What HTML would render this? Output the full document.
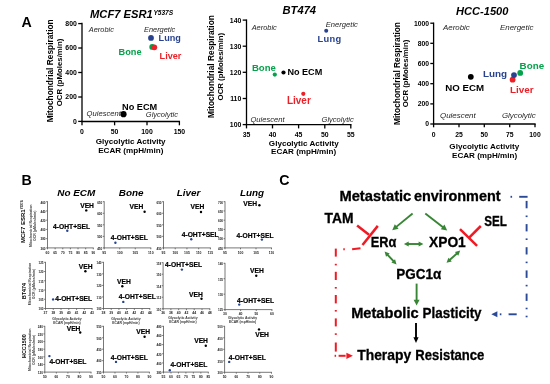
<!DOCTYPE html>
<html><head><meta charset="utf-8"><style>
html,body{margin:0;padding:0;background:#fff;overflow:hidden;}
svg{display:block;font-family:"Liberation Sans",sans-serif;}
</style></head><body>
<svg width="550" height="384" viewBox="0 0 550 384">
<rect width="550" height="384" fill="#fff"/>
<text x="21.60" y="27.00" font-size="14.2" font-weight="bold" fill="#000" text-anchor="start">A</text>
<line x1="82.00" y1="22.75" x2="82.00" y2="121.50" stroke="#000" stroke-width="1.3"/>
<line x1="81.35" y1="121.50" x2="180.05" y2="121.50" stroke="#000" stroke-width="1.3"/>
<line x1="78.20" y1="23.60" x2="82.00" y2="23.60" stroke="#000" stroke-width="1.3"/>
<text x="76.80" y="26.08" font-size="6.9" font-weight="bold" fill="#000" text-anchor="end">800</text>
<line x1="78.20" y1="48.00" x2="82.00" y2="48.00" stroke="#000" stroke-width="1.3"/>
<text x="76.80" y="50.48" font-size="6.9" font-weight="bold" fill="#000" text-anchor="end">600</text>
<line x1="78.20" y1="72.50" x2="82.00" y2="72.50" stroke="#000" stroke-width="1.3"/>
<text x="76.80" y="74.98" font-size="6.9" font-weight="bold" fill="#000" text-anchor="end">400</text>
<line x1="78.20" y1="97.00" x2="82.00" y2="97.00" stroke="#000" stroke-width="1.3"/>
<text x="76.80" y="99.48" font-size="6.9" font-weight="bold" fill="#000" text-anchor="end">200</text>
<line x1="78.20" y1="121.40" x2="82.00" y2="121.40" stroke="#000" stroke-width="1.3"/>
<text x="76.80" y="123.88" font-size="6.9" font-weight="bold" fill="#000" text-anchor="end">0</text>
<line x1="82.00" y1="121.50" x2="82.00" y2="125.30" stroke="#000" stroke-width="1.3"/>
<text x="82.00" y="133.50" font-size="6.9" font-weight="bold" fill="#000" text-anchor="middle">0</text>
<line x1="114.60" y1="121.50" x2="114.60" y2="125.30" stroke="#000" stroke-width="1.3"/>
<text x="114.60" y="133.50" font-size="6.9" font-weight="bold" fill="#000" text-anchor="middle">50</text>
<line x1="147.00" y1="121.50" x2="147.00" y2="125.30" stroke="#000" stroke-width="1.3"/>
<text x="147.00" y="133.50" font-size="6.9" font-weight="bold" fill="#000" text-anchor="middle">100</text>
<line x1="179.40" y1="121.50" x2="179.40" y2="125.30" stroke="#000" stroke-width="1.3"/>
<text x="179.40" y="133.50" font-size="6.9" font-weight="bold" fill="#000" text-anchor="middle">150</text>
<text x="90" y="18.3" font-size="11.2" font-weight="bold" font-style="italic">MCF7 ESR1<tspan font-size="6.6" dx="0.6" dy="-3.6">Y537S</tspan></text>
<text transform="translate(53.19,70.80) rotate(-90)" font-size="8.35" font-weight="bold" fill="#000" text-anchor="middle">Mitochondrial Respiration</text>
<text transform="translate(62.29,72.50) rotate(-90)" font-size="7.8" font-weight="bold" fill="#000" text-anchor="middle">OCR (pMoles/min)</text>
<text x="130.70" y="143.90" font-size="8.1" font-weight="bold" fill="#000" text-anchor="middle">Glycolytic Activity</text>
<text x="130.80" y="152.90" font-size="8.1" font-weight="bold" fill="#000" text-anchor="middle">ECAR (mpH/min)</text>
<text x="88.80" y="32.00" font-size="7.4" font-weight="normal" font-style="italic" fill="#262626" text-anchor="start">Aerobic</text>
<text x="144.00" y="32.00" font-size="7.4" font-weight="normal" font-style="italic" fill="#262626" text-anchor="start">Energetic</text>
<text x="86.60" y="116.20" font-size="7.6" font-weight="normal" font-style="italic" fill="#262626" text-anchor="start">Quiescent</text>
<text x="145.80" y="116.80" font-size="7.5" font-weight="normal" font-style="italic" fill="#262626" text-anchor="start">Glycolytic</text>
<circle cx="151.00" cy="37.90" r="2.9" fill="#28428f"/>
<circle cx="152.20" cy="46.90" r="2.9" fill="#05a14b"/>
<circle cx="154.30" cy="47.30" r="2.9" fill="#ea2129"/>
<circle cx="123.50" cy="114.20" r="3.1" fill="#000"/>
<text x="158.60" y="41.00" font-size="9.1" font-weight="bold" fill="#28428f" text-anchor="start">Lung</text>
<text x="118.60" y="54.80" font-size="9.2" font-weight="bold" fill="#05a14b" text-anchor="start">Bone</text>
<text x="159.60" y="58.90" font-size="9.1" font-weight="bold" fill="#ea2129" text-anchor="start">Liver</text>
<text x="122.00" y="110.30" font-size="9.2" font-weight="bold" fill="#000" text-anchor="start">No ECM</text>
<line x1="246.50" y1="19.45" x2="246.50" y2="124.60" stroke="#000" stroke-width="1.3"/>
<line x1="245.85" y1="124.60" x2="351.45" y2="124.60" stroke="#000" stroke-width="1.3"/>
<line x1="242.70" y1="20.10" x2="246.50" y2="20.10" stroke="#000" stroke-width="1.3"/>
<text x="241.30" y="22.58" font-size="6.9" font-weight="bold" fill="#000" text-anchor="end">140</text>
<line x1="242.70" y1="46.20" x2="246.50" y2="46.20" stroke="#000" stroke-width="1.3"/>
<text x="241.30" y="48.68" font-size="6.9" font-weight="bold" fill="#000" text-anchor="end">130</text>
<line x1="242.70" y1="72.30" x2="246.50" y2="72.30" stroke="#000" stroke-width="1.3"/>
<text x="241.30" y="74.78" font-size="6.9" font-weight="bold" fill="#000" text-anchor="end">120</text>
<line x1="242.70" y1="98.50" x2="246.50" y2="98.50" stroke="#000" stroke-width="1.3"/>
<text x="241.30" y="100.98" font-size="6.9" font-weight="bold" fill="#000" text-anchor="end">110</text>
<line x1="242.70" y1="124.60" x2="246.50" y2="124.60" stroke="#000" stroke-width="1.3"/>
<text x="241.30" y="127.08" font-size="6.9" font-weight="bold" fill="#000" text-anchor="end">100</text>
<line x1="246.50" y1="124.60" x2="246.50" y2="128.40" stroke="#000" stroke-width="1.3"/>
<text x="246.50" y="137.00" font-size="6.9" font-weight="bold" fill="#000" text-anchor="middle">35</text>
<line x1="272.50" y1="124.60" x2="272.50" y2="128.40" stroke="#000" stroke-width="1.3"/>
<text x="272.50" y="137.00" font-size="6.9" font-weight="bold" fill="#000" text-anchor="middle">40</text>
<line x1="298.60" y1="124.60" x2="298.60" y2="128.40" stroke="#000" stroke-width="1.3"/>
<text x="298.60" y="137.00" font-size="6.9" font-weight="bold" fill="#000" text-anchor="middle">45</text>
<line x1="324.80" y1="124.60" x2="324.80" y2="128.40" stroke="#000" stroke-width="1.3"/>
<text x="324.80" y="137.00" font-size="6.9" font-weight="bold" fill="#000" text-anchor="middle">50</text>
<line x1="350.80" y1="124.60" x2="350.80" y2="128.40" stroke="#000" stroke-width="1.3"/>
<text x="350.80" y="137.00" font-size="6.9" font-weight="bold" fill="#000" text-anchor="middle">55</text>
<text x="282.50" y="14.00" font-size="11.2" font-weight="bold" font-style="italic" fill="#000" text-anchor="start">BT474</text>
<text transform="translate(213.89,66.60) rotate(-90)" font-size="8.35" font-weight="bold" fill="#000" text-anchor="middle">Mitochondrial Respiration</text>
<text transform="translate(223.09,66.60) rotate(-90)" font-size="7.8" font-weight="bold" fill="#000" text-anchor="middle">OCR (pMoles/min)</text>
<text x="303.80" y="145.60" font-size="8.1" font-weight="bold" fill="#000" text-anchor="middle">Glycolytic Activity</text>
<text x="303.60" y="154.20" font-size="8.1" font-weight="bold" fill="#000" text-anchor="middle">ECAR (mpH/min)</text>
<text x="251.70" y="29.50" font-size="7.4" font-weight="normal" font-style="italic" fill="#262626" text-anchor="start">Aerobic</text>
<text x="325.80" y="27.10" font-size="7.6" font-weight="normal" font-style="italic" fill="#262626" text-anchor="start">Energetic</text>
<text x="250.40" y="122.10" font-size="7.6" font-weight="normal" font-style="italic" fill="#262626" text-anchor="start">Quiescent</text>
<text x="321.60" y="122.10" font-size="7.5" font-weight="normal" font-style="italic" fill="#262626" text-anchor="start">Glycolytic</text>
<circle cx="326.20" cy="30.70" r="2.0" fill="#28428f"/>
<circle cx="274.80" cy="74.60" r="2.1" fill="#05a14b"/>
<circle cx="283.50" cy="72.50" r="2.1" fill="#000"/>
<circle cx="303.30" cy="93.80" r="2.1" fill="#ea2129"/>
<text x="317.50" y="41.60" font-size="9.3" font-weight="bold" fill="#28428f" text-anchor="start" letter-spacing="0.3">Lung</text>
<text x="251.90" y="71.40" font-size="9.6" font-weight="bold" fill="#05a14b" text-anchor="start">Bone</text>
<text x="287.40" y="75.40" font-size="9.1" font-weight="bold" fill="#000" text-anchor="start">No ECM</text>
<text x="286.90" y="104.20" font-size="10" font-weight="bold" fill="#ea2129" text-anchor="start">Liver</text>
<line x1="433.60" y1="22.55" x2="433.60" y2="124.00" stroke="#000" stroke-width="1.3"/>
<line x1="432.95" y1="124.00" x2="535.65" y2="124.00" stroke="#000" stroke-width="1.3"/>
<line x1="430.30" y1="23.20" x2="433.60" y2="23.20" stroke="#000" stroke-width="1.3"/>
<text x="429.00" y="25.65" font-size="6.8" font-weight="bold" fill="#000" text-anchor="end">1000</text>
<line x1="430.30" y1="43.30" x2="433.60" y2="43.30" stroke="#000" stroke-width="1.3"/>
<text x="429.00" y="45.75" font-size="6.8" font-weight="bold" fill="#000" text-anchor="end">800</text>
<line x1="430.30" y1="63.50" x2="433.60" y2="63.50" stroke="#000" stroke-width="1.3"/>
<text x="429.00" y="65.95" font-size="6.8" font-weight="bold" fill="#000" text-anchor="end">600</text>
<line x1="430.30" y1="83.70" x2="433.60" y2="83.70" stroke="#000" stroke-width="1.3"/>
<text x="429.00" y="86.15" font-size="6.8" font-weight="bold" fill="#000" text-anchor="end">400</text>
<line x1="430.30" y1="103.90" x2="433.60" y2="103.90" stroke="#000" stroke-width="1.3"/>
<text x="429.00" y="106.35" font-size="6.8" font-weight="bold" fill="#000" text-anchor="end">200</text>
<line x1="430.30" y1="124.00" x2="433.60" y2="124.00" stroke="#000" stroke-width="1.3"/>
<text x="429.00" y="126.45" font-size="6.8" font-weight="bold" fill="#000" text-anchor="end">0</text>
<line x1="433.60" y1="124.00" x2="433.60" y2="127.30" stroke="#000" stroke-width="1.3"/>
<text x="433.60" y="136.70" font-size="6.8" font-weight="bold" fill="#000" text-anchor="middle">0</text>
<line x1="459.00" y1="124.00" x2="459.00" y2="127.30" stroke="#000" stroke-width="1.3"/>
<text x="459.00" y="136.70" font-size="6.8" font-weight="bold" fill="#000" text-anchor="middle">25</text>
<line x1="484.30" y1="124.00" x2="484.30" y2="127.30" stroke="#000" stroke-width="1.3"/>
<text x="484.30" y="136.70" font-size="6.8" font-weight="bold" fill="#000" text-anchor="middle">50</text>
<line x1="509.70" y1="124.00" x2="509.70" y2="127.30" stroke="#000" stroke-width="1.3"/>
<text x="509.70" y="136.70" font-size="6.8" font-weight="bold" fill="#000" text-anchor="middle">75</text>
<line x1="535.00" y1="124.00" x2="535.00" y2="127.30" stroke="#000" stroke-width="1.3"/>
<text x="535.00" y="136.70" font-size="6.8" font-weight="bold" fill="#000" text-anchor="middle">100</text>
<text x="456.00" y="14.70" font-size="11.1" font-weight="bold" font-style="italic" fill="#000" text-anchor="start">HCC-1500</text>
<text transform="translate(399.69,73.50) rotate(-90)" font-size="8.35" font-weight="bold" fill="#000" text-anchor="middle">Mitochondrial Respiration</text>
<text transform="translate(407.79,73.50) rotate(-90)" font-size="7.8" font-weight="bold" fill="#000" text-anchor="middle">OCR (pMoles/min)</text>
<text x="484.30" y="149.10" font-size="8.1" font-weight="bold" fill="#000" text-anchor="middle">Glycolytic Activity</text>
<text x="484.60" y="157.80" font-size="8.1" font-weight="bold" fill="#000" text-anchor="middle">ECAR (mpH/min)</text>
<text x="443.00" y="29.90" font-size="7.9" font-weight="normal" font-style="italic" fill="#262626" text-anchor="start">Aerobic</text>
<text x="500.00" y="30.40" font-size="7.9" font-weight="normal" font-style="italic" fill="#262626" text-anchor="start">Energetic</text>
<text x="440.00" y="118.00" font-size="7.95" font-weight="normal" font-style="italic" fill="#262626" text-anchor="start">Quiescent</text>
<text x="501.90" y="118.30" font-size="7.9" font-weight="normal" font-style="italic" fill="#262626" text-anchor="start">Glycolytic</text>
<circle cx="470.80" cy="76.80" r="2.9" fill="#000"/>
<circle cx="520.20" cy="72.90" r="2.9" fill="#05a14b"/>
<circle cx="512.60" cy="79.70" r="2.9" fill="#ea2129"/>
<circle cx="514.00" cy="75.10" r="2.9" fill="#28428f"/>
<text x="519.60" y="69.40" font-size="9.8" font-weight="bold" fill="#05a14b" text-anchor="start">Bone</text>
<text x="483.00" y="76.70" font-size="9.9" font-weight="bold" fill="#28428f" text-anchor="start">Lung</text>
<text x="510.00" y="93.30" font-size="9.9" font-weight="bold" fill="#ea2129" text-anchor="start">Liver</text>
<text x="445.30" y="91.30" font-size="9.7" font-weight="bold" fill="#000" text-anchor="start">NO ECM</text>
<text x="21.60" y="184.80" font-size="14.2" font-weight="bold" fill="#000" text-anchor="start">B</text>
<text x="57.30" y="196.20" font-size="9.9" font-weight="bold" font-style="italic" fill="#000" text-anchor="start">No ECM</text>
<text x="118.75" y="196.20" font-size="9.9" font-weight="bold" font-style="italic" fill="#000" text-anchor="start">Bone</text>
<text x="176.70" y="196.20" font-size="9.9" font-weight="bold" font-style="italic" fill="#000" text-anchor="start">Liver</text>
<text x="240.00" y="196.20" font-size="9.9" font-weight="bold" font-style="italic" fill="#000" text-anchor="start">Lung</text>
<line x1="47.50" y1="201.30" x2="47.50" y2="247.90" stroke="#555" stroke-width="0.8"/>
<line x1="47.10" y1="247.90" x2="93.70" y2="247.90" stroke="#555" stroke-width="0.8"/>
<line x1="46.10" y1="201.70" x2="47.50" y2="201.70" stroke="#555" stroke-width="0.8"/>
<text x="45.60" y="203.50" font-size="3.1" font-weight="bold" fill="#222" text-anchor="end">460</text>
<line x1="46.10" y1="210.94" x2="47.50" y2="210.94" stroke="#555" stroke-width="0.8"/>
<text x="45.60" y="212.74" font-size="3.1" font-weight="bold" fill="#222" text-anchor="end">440</text>
<line x1="46.10" y1="220.18" x2="47.50" y2="220.18" stroke="#555" stroke-width="0.8"/>
<text x="45.60" y="221.98" font-size="3.1" font-weight="bold" fill="#222" text-anchor="end">420</text>
<line x1="46.10" y1="229.42" x2="47.50" y2="229.42" stroke="#555" stroke-width="0.8"/>
<text x="45.60" y="231.22" font-size="3.1" font-weight="bold" fill="#222" text-anchor="end">400</text>
<line x1="46.10" y1="238.66" x2="47.50" y2="238.66" stroke="#555" stroke-width="0.8"/>
<text x="45.60" y="240.46" font-size="3.1" font-weight="bold" fill="#222" text-anchor="end">380</text>
<line x1="46.10" y1="247.90" x2="47.50" y2="247.90" stroke="#555" stroke-width="0.8"/>
<text x="45.60" y="249.70" font-size="3.1" font-weight="bold" fill="#222" text-anchor="end">360</text>
<line x1="47.50" y1="247.90" x2="47.50" y2="249.30" stroke="#555" stroke-width="0.8"/>
<text x="47.50" y="253.80" font-size="3.4" font-weight="bold" fill="#222" text-anchor="middle">60</text>
<line x1="55.13" y1="247.90" x2="55.13" y2="249.30" stroke="#555" stroke-width="0.8"/>
<text x="55.13" y="253.80" font-size="3.4" font-weight="bold" fill="#222" text-anchor="middle">65</text>
<line x1="62.77" y1="247.90" x2="62.77" y2="249.30" stroke="#555" stroke-width="0.8"/>
<text x="62.77" y="253.80" font-size="3.4" font-weight="bold" fill="#222" text-anchor="middle">70</text>
<line x1="70.40" y1="247.90" x2="70.40" y2="249.30" stroke="#555" stroke-width="0.8"/>
<text x="70.40" y="253.80" font-size="3.4" font-weight="bold" fill="#222" text-anchor="middle">75</text>
<line x1="78.03" y1="247.90" x2="78.03" y2="249.30" stroke="#555" stroke-width="0.8"/>
<text x="78.03" y="253.80" font-size="3.4" font-weight="bold" fill="#222" text-anchor="middle">80</text>
<line x1="85.67" y1="247.90" x2="85.67" y2="249.30" stroke="#555" stroke-width="0.8"/>
<text x="85.67" y="253.80" font-size="3.4" font-weight="bold" fill="#222" text-anchor="middle">85</text>
<line x1="93.30" y1="247.90" x2="93.30" y2="249.30" stroke="#555" stroke-width="0.8"/>
<text x="93.30" y="253.80" font-size="3.4" font-weight="bold" fill="#222" text-anchor="middle">90</text>
<circle cx="86.25" cy="210.40" r="1.2" fill="#000"/>
<circle cx="67.30" cy="230.80" r="1.2" fill="#28428f"/>
<text x="80.20" y="208.20" font-size="6.7" font-weight="bold" fill="#000" text-anchor="start" stroke="#000" stroke-width="0.2">VEH</text>
<text x="53.10" y="228.60" font-size="6.7" font-weight="bold" fill="#000" text-anchor="start" stroke="#000" stroke-width="0.2">4-OHT+SEL</text>
<line x1="104.20" y1="201.30" x2="104.20" y2="247.90" stroke="#555" stroke-width="0.8"/>
<line x1="103.80" y1="247.90" x2="151.20" y2="247.90" stroke="#555" stroke-width="0.8"/>
<line x1="102.80" y1="201.70" x2="104.20" y2="201.70" stroke="#555" stroke-width="0.8"/>
<text x="102.30" y="203.50" font-size="3.1" font-weight="bold" fill="#222" text-anchor="end">650</text>
<line x1="102.80" y1="213.25" x2="104.20" y2="213.25" stroke="#555" stroke-width="0.8"/>
<text x="102.30" y="215.05" font-size="3.1" font-weight="bold" fill="#222" text-anchor="end">600</text>
<line x1="102.80" y1="224.80" x2="104.20" y2="224.80" stroke="#555" stroke-width="0.8"/>
<text x="102.30" y="226.60" font-size="3.1" font-weight="bold" fill="#222" text-anchor="end">550</text>
<line x1="102.80" y1="236.35" x2="104.20" y2="236.35" stroke="#555" stroke-width="0.8"/>
<text x="102.30" y="238.15" font-size="3.1" font-weight="bold" fill="#222" text-anchor="end">500</text>
<line x1="102.80" y1="247.90" x2="104.20" y2="247.90" stroke="#555" stroke-width="0.8"/>
<text x="102.30" y="249.70" font-size="3.1" font-weight="bold" fill="#222" text-anchor="end">450</text>
<line x1="104.20" y1="247.90" x2="104.20" y2="249.30" stroke="#555" stroke-width="0.8"/>
<text x="104.20" y="253.80" font-size="3.4" font-weight="bold" fill="#222" text-anchor="middle">95</text>
<line x1="119.73" y1="247.90" x2="119.73" y2="249.30" stroke="#555" stroke-width="0.8"/>
<text x="119.73" y="253.80" font-size="3.4" font-weight="bold" fill="#222" text-anchor="middle">100</text>
<line x1="135.27" y1="247.90" x2="135.27" y2="249.30" stroke="#555" stroke-width="0.8"/>
<text x="135.27" y="253.80" font-size="3.4" font-weight="bold" fill="#222" text-anchor="middle">105</text>
<line x1="150.80" y1="247.90" x2="150.80" y2="249.30" stroke="#555" stroke-width="0.8"/>
<text x="150.80" y="253.80" font-size="3.4" font-weight="bold" fill="#222" text-anchor="middle">110</text>
<circle cx="144.60" cy="211.70" r="1.2" fill="#000"/>
<circle cx="115.40" cy="242.70" r="1.2" fill="#28428f"/>
<text x="129.60" y="208.90" font-size="6.7" font-weight="bold" fill="#000" text-anchor="start" stroke="#000" stroke-width="0.2">VEH</text>
<text x="110.80" y="240.40" font-size="6.7" font-weight="bold" fill="#000" text-anchor="start" stroke="#000" stroke-width="0.2">4-OHT+SEL</text>
<line x1="163.50" y1="201.30" x2="163.50" y2="247.90" stroke="#555" stroke-width="0.8"/>
<line x1="163.10" y1="247.90" x2="210.80" y2="247.90" stroke="#555" stroke-width="0.8"/>
<line x1="162.10" y1="201.70" x2="163.50" y2="201.70" stroke="#555" stroke-width="0.8"/>
<text x="161.60" y="203.50" font-size="3.1" font-weight="bold" fill="#222" text-anchor="end">650</text>
<line x1="162.10" y1="213.25" x2="163.50" y2="213.25" stroke="#555" stroke-width="0.8"/>
<text x="161.60" y="215.05" font-size="3.1" font-weight="bold" fill="#222" text-anchor="end">600</text>
<line x1="162.10" y1="224.80" x2="163.50" y2="224.80" stroke="#555" stroke-width="0.8"/>
<text x="161.60" y="226.60" font-size="3.1" font-weight="bold" fill="#222" text-anchor="end">550</text>
<line x1="162.10" y1="236.35" x2="163.50" y2="236.35" stroke="#555" stroke-width="0.8"/>
<text x="161.60" y="238.15" font-size="3.1" font-weight="bold" fill="#222" text-anchor="end">500</text>
<line x1="162.10" y1="247.90" x2="163.50" y2="247.90" stroke="#555" stroke-width="0.8"/>
<text x="161.60" y="249.70" font-size="3.1" font-weight="bold" fill="#222" text-anchor="end">450</text>
<line x1="163.50" y1="247.90" x2="163.50" y2="249.30" stroke="#555" stroke-width="0.8"/>
<text x="163.50" y="253.80" font-size="3.4" font-weight="bold" fill="#222" text-anchor="middle">95</text>
<line x1="175.22" y1="247.90" x2="175.22" y2="249.30" stroke="#555" stroke-width="0.8"/>
<text x="175.22" y="253.80" font-size="3.4" font-weight="bold" fill="#222" text-anchor="middle">100</text>
<line x1="186.95" y1="247.90" x2="186.95" y2="249.30" stroke="#555" stroke-width="0.8"/>
<text x="186.95" y="253.80" font-size="3.4" font-weight="bold" fill="#222" text-anchor="middle">105</text>
<line x1="198.68" y1="247.90" x2="198.68" y2="249.30" stroke="#555" stroke-width="0.8"/>
<text x="198.68" y="253.80" font-size="3.4" font-weight="bold" fill="#222" text-anchor="middle">110</text>
<line x1="210.40" y1="247.90" x2="210.40" y2="249.30" stroke="#555" stroke-width="0.8"/>
<text x="210.40" y="253.80" font-size="3.4" font-weight="bold" fill="#222" text-anchor="middle">115</text>
<circle cx="201.00" cy="212.00" r="1.2" fill="#000"/>
<circle cx="191.25" cy="239.20" r="1.2" fill="#28428f"/>
<text x="190.60" y="209.30" font-size="6.7" font-weight="bold" fill="#000" text-anchor="start" stroke="#000" stroke-width="0.2">VEH</text>
<text x="181.70" y="237.40" font-size="6.7" font-weight="bold" fill="#000" text-anchor="start" stroke="#000" stroke-width="0.2">4-OHT+SEL</text>
<line x1="225.00" y1="201.30" x2="225.00" y2="247.90" stroke="#555" stroke-width="0.8"/>
<line x1="224.60" y1="247.90" x2="271.90" y2="247.90" stroke="#555" stroke-width="0.8"/>
<line x1="223.60" y1="201.70" x2="225.00" y2="201.70" stroke="#555" stroke-width="0.8"/>
<text x="223.10" y="203.50" font-size="3.1" font-weight="bold" fill="#222" text-anchor="end">700</text>
<line x1="223.60" y1="210.94" x2="225.00" y2="210.94" stroke="#555" stroke-width="0.8"/>
<text x="223.10" y="212.74" font-size="3.1" font-weight="bold" fill="#222" text-anchor="end">650</text>
<line x1="223.60" y1="220.18" x2="225.00" y2="220.18" stroke="#555" stroke-width="0.8"/>
<text x="223.10" y="221.98" font-size="3.1" font-weight="bold" fill="#222" text-anchor="end">600</text>
<line x1="223.60" y1="229.42" x2="225.00" y2="229.42" stroke="#555" stroke-width="0.8"/>
<text x="223.10" y="231.22" font-size="3.1" font-weight="bold" fill="#222" text-anchor="end">550</text>
<line x1="223.60" y1="238.66" x2="225.00" y2="238.66" stroke="#555" stroke-width="0.8"/>
<text x="223.10" y="240.46" font-size="3.1" font-weight="bold" fill="#222" text-anchor="end">500</text>
<line x1="223.60" y1="247.90" x2="225.00" y2="247.90" stroke="#555" stroke-width="0.8"/>
<text x="223.10" y="249.70" font-size="3.1" font-weight="bold" fill="#222" text-anchor="end">450</text>
<line x1="225.00" y1="247.90" x2="225.00" y2="249.30" stroke="#555" stroke-width="0.8"/>
<text x="225.00" y="253.80" font-size="3.4" font-weight="bold" fill="#222" text-anchor="middle">95</text>
<line x1="240.50" y1="247.90" x2="240.50" y2="249.30" stroke="#555" stroke-width="0.8"/>
<text x="240.50" y="253.80" font-size="3.4" font-weight="bold" fill="#222" text-anchor="middle">100</text>
<line x1="256.00" y1="247.90" x2="256.00" y2="249.30" stroke="#555" stroke-width="0.8"/>
<text x="256.00" y="253.80" font-size="3.4" font-weight="bold" fill="#222" text-anchor="middle">105</text>
<line x1="271.50" y1="247.90" x2="271.50" y2="249.30" stroke="#555" stroke-width="0.8"/>
<text x="271.50" y="253.80" font-size="3.4" font-weight="bold" fill="#222" text-anchor="middle">110</text>
<circle cx="259.40" cy="205.20" r="1.2" fill="#000"/>
<circle cx="261.90" cy="239.60" r="1.2" fill="#28428f"/>
<text x="243.30" y="206.10" font-size="6.7" font-weight="bold" fill="#000" text-anchor="start" stroke="#000" stroke-width="0.2">VEH</text>
<text x="236.50" y="238.00" font-size="6.7" font-weight="bold" fill="#000" text-anchor="start" stroke="#000" stroke-width="0.2">4-OHT+SEL</text>
<line x1="45.50" y1="261.90" x2="45.50" y2="308.50" stroke="#555" stroke-width="0.8"/>
<line x1="45.10" y1="308.50" x2="92.50" y2="308.50" stroke="#555" stroke-width="0.8"/>
<line x1="44.10" y1="262.30" x2="45.50" y2="262.30" stroke="#555" stroke-width="0.8"/>
<text x="43.60" y="264.10" font-size="3.1" font-weight="bold" fill="#222" text-anchor="end">125</text>
<line x1="44.10" y1="271.54" x2="45.50" y2="271.54" stroke="#555" stroke-width="0.8"/>
<text x="43.60" y="273.34" font-size="3.1" font-weight="bold" fill="#222" text-anchor="end">120</text>
<line x1="44.10" y1="280.78" x2="45.50" y2="280.78" stroke="#555" stroke-width="0.8"/>
<text x="43.60" y="282.58" font-size="3.1" font-weight="bold" fill="#222" text-anchor="end">115</text>
<line x1="44.10" y1="290.02" x2="45.50" y2="290.02" stroke="#555" stroke-width="0.8"/>
<text x="43.60" y="291.82" font-size="3.1" font-weight="bold" fill="#222" text-anchor="end">110</text>
<line x1="44.10" y1="299.26" x2="45.50" y2="299.26" stroke="#555" stroke-width="0.8"/>
<text x="43.60" y="301.06" font-size="3.1" font-weight="bold" fill="#222" text-anchor="end">105</text>
<line x1="44.10" y1="308.50" x2="45.50" y2="308.50" stroke="#555" stroke-width="0.8"/>
<text x="43.60" y="310.30" font-size="3.1" font-weight="bold" fill="#222" text-anchor="end">100</text>
<line x1="45.50" y1="308.50" x2="45.50" y2="309.90" stroke="#555" stroke-width="0.8"/>
<text x="45.50" y="313.90" font-size="3.4" font-weight="bold" fill="#222" text-anchor="middle">37</text>
<line x1="53.27" y1="308.50" x2="53.27" y2="309.90" stroke="#555" stroke-width="0.8"/>
<text x="53.27" y="313.90" font-size="3.4" font-weight="bold" fill="#222" text-anchor="middle">38</text>
<line x1="61.03" y1="308.50" x2="61.03" y2="309.90" stroke="#555" stroke-width="0.8"/>
<text x="61.03" y="313.90" font-size="3.4" font-weight="bold" fill="#222" text-anchor="middle">39</text>
<line x1="68.80" y1="308.50" x2="68.80" y2="309.90" stroke="#555" stroke-width="0.8"/>
<text x="68.80" y="313.90" font-size="3.4" font-weight="bold" fill="#222" text-anchor="middle">40</text>
<line x1="76.57" y1="308.50" x2="76.57" y2="309.90" stroke="#555" stroke-width="0.8"/>
<text x="76.57" y="313.90" font-size="3.4" font-weight="bold" fill="#222" text-anchor="middle">41</text>
<line x1="84.33" y1="308.50" x2="84.33" y2="309.90" stroke="#555" stroke-width="0.8"/>
<text x="84.33" y="313.90" font-size="3.4" font-weight="bold" fill="#222" text-anchor="middle">42</text>
<line x1="92.10" y1="308.50" x2="92.10" y2="309.90" stroke="#555" stroke-width="0.8"/>
<text x="92.10" y="313.90" font-size="3.4" font-weight="bold" fill="#222" text-anchor="middle">43</text>
<circle cx="85.40" cy="271.25" r="1.2" fill="#000"/>
<circle cx="53.10" cy="299.40" r="1.2" fill="#28428f"/>
<text x="78.75" y="269.30" font-size="6.7" font-weight="bold" fill="#000" text-anchor="start" stroke="#000" stroke-width="0.2">VEH</text>
<text x="55.20" y="301.10" font-size="6.7" font-weight="bold" fill="#000" text-anchor="start" stroke="#000" stroke-width="0.2">4-OHT+SEL</text>
<text x="67.00" y="319.80" font-size="3.4" font-weight="bold" fill="#333" text-anchor="middle">Glycolytic Activity</text>
<text x="67.00" y="323.50" font-size="3.4" font-weight="bold" fill="#333" text-anchor="middle">ECAR (mpH/min)</text>
<line x1="103.50" y1="261.90" x2="103.50" y2="308.50" stroke="#555" stroke-width="0.8"/>
<line x1="103.10" y1="308.50" x2="150.20" y2="308.50" stroke="#555" stroke-width="0.8"/>
<line x1="102.10" y1="262.30" x2="103.50" y2="262.30" stroke="#555" stroke-width="0.8"/>
<text x="101.60" y="264.10" font-size="3.1" font-weight="bold" fill="#222" text-anchor="end">140</text>
<line x1="102.10" y1="273.85" x2="103.50" y2="273.85" stroke="#555" stroke-width="0.8"/>
<text x="101.60" y="275.65" font-size="3.1" font-weight="bold" fill="#222" text-anchor="end">130</text>
<line x1="102.10" y1="285.40" x2="103.50" y2="285.40" stroke="#555" stroke-width="0.8"/>
<text x="101.60" y="287.20" font-size="3.1" font-weight="bold" fill="#222" text-anchor="end">120</text>
<line x1="102.10" y1="296.95" x2="103.50" y2="296.95" stroke="#555" stroke-width="0.8"/>
<text x="101.60" y="298.75" font-size="3.1" font-weight="bold" fill="#222" text-anchor="end">110</text>
<line x1="102.10" y1="308.50" x2="103.50" y2="308.50" stroke="#555" stroke-width="0.8"/>
<text x="101.60" y="310.30" font-size="3.1" font-weight="bold" fill="#222" text-anchor="end">100</text>
<line x1="103.50" y1="308.50" x2="103.50" y2="309.90" stroke="#555" stroke-width="0.8"/>
<text x="103.50" y="313.90" font-size="3.4" font-weight="bold" fill="#222" text-anchor="middle">38</text>
<line x1="111.22" y1="308.50" x2="111.22" y2="309.90" stroke="#555" stroke-width="0.8"/>
<text x="111.22" y="313.90" font-size="3.4" font-weight="bold" fill="#222" text-anchor="middle">39</text>
<line x1="118.93" y1="308.50" x2="118.93" y2="309.90" stroke="#555" stroke-width="0.8"/>
<text x="118.93" y="313.90" font-size="3.4" font-weight="bold" fill="#222" text-anchor="middle">40</text>
<line x1="126.65" y1="308.50" x2="126.65" y2="309.90" stroke="#555" stroke-width="0.8"/>
<text x="126.65" y="313.90" font-size="3.4" font-weight="bold" fill="#222" text-anchor="middle">41</text>
<line x1="134.37" y1="308.50" x2="134.37" y2="309.90" stroke="#555" stroke-width="0.8"/>
<text x="134.37" y="313.90" font-size="3.4" font-weight="bold" fill="#222" text-anchor="middle">42</text>
<line x1="142.08" y1="308.50" x2="142.08" y2="309.90" stroke="#555" stroke-width="0.8"/>
<text x="142.08" y="313.90" font-size="3.4" font-weight="bold" fill="#222" text-anchor="middle">43</text>
<line x1="149.80" y1="308.50" x2="149.80" y2="309.90" stroke="#555" stroke-width="0.8"/>
<text x="149.80" y="313.90" font-size="3.4" font-weight="bold" fill="#222" text-anchor="middle">44</text>
<circle cx="122.30" cy="286.25" r="1.2" fill="#000"/>
<circle cx="123.30" cy="301.90" r="1.2" fill="#28428f"/>
<text x="117.00" y="283.90" font-size="6.7" font-weight="bold" fill="#000" text-anchor="start" stroke="#000" stroke-width="0.2">VEH</text>
<text x="118.75" y="299.10" font-size="6.7" font-weight="bold" fill="#000" text-anchor="start" stroke="#000" stroke-width="0.2">4-OHT+SEL</text>
<text x="125.90" y="319.60" font-size="3.4" font-weight="bold" fill="#333" text-anchor="middle">Glycolytic Activity</text>
<text x="125.90" y="323.80" font-size="3.4" font-weight="bold" fill="#333" text-anchor="middle">ECAR (mpH/min)</text>
<line x1="163.10" y1="262.30" x2="163.10" y2="308.75" stroke="#555" stroke-width="0.8"/>
<line x1="162.70" y1="308.75" x2="210.20" y2="308.75" stroke="#555" stroke-width="0.8"/>
<line x1="161.70" y1="262.70" x2="163.10" y2="262.70" stroke="#555" stroke-width="0.8"/>
<text x="161.20" y="264.50" font-size="3.1" font-weight="bold" fill="#222" text-anchor="end">118</text>
<line x1="161.70" y1="274.21" x2="163.10" y2="274.21" stroke="#555" stroke-width="0.8"/>
<text x="161.20" y="276.01" font-size="3.1" font-weight="bold" fill="#222" text-anchor="end">116</text>
<line x1="161.70" y1="285.73" x2="163.10" y2="285.73" stroke="#555" stroke-width="0.8"/>
<text x="161.20" y="287.53" font-size="3.1" font-weight="bold" fill="#222" text-anchor="end">114</text>
<line x1="161.70" y1="297.24" x2="163.10" y2="297.24" stroke="#555" stroke-width="0.8"/>
<text x="161.20" y="299.04" font-size="3.1" font-weight="bold" fill="#222" text-anchor="end">112</text>
<line x1="161.70" y1="308.75" x2="163.10" y2="308.75" stroke="#555" stroke-width="0.8"/>
<text x="161.20" y="310.55" font-size="3.1" font-weight="bold" fill="#222" text-anchor="end">110</text>
<line x1="163.10" y1="308.75" x2="163.10" y2="310.15" stroke="#555" stroke-width="0.8"/>
<text x="163.10" y="314.15" font-size="3.4" font-weight="bold" fill="#222" text-anchor="middle">36</text>
<line x1="170.88" y1="308.75" x2="170.88" y2="310.15" stroke="#555" stroke-width="0.8"/>
<text x="170.88" y="314.15" font-size="3.4" font-weight="bold" fill="#222" text-anchor="middle">38</text>
<line x1="178.67" y1="308.75" x2="178.67" y2="310.15" stroke="#555" stroke-width="0.8"/>
<text x="178.67" y="314.15" font-size="3.4" font-weight="bold" fill="#222" text-anchor="middle">40</text>
<line x1="186.45" y1="308.75" x2="186.45" y2="310.15" stroke="#555" stroke-width="0.8"/>
<text x="186.45" y="314.15" font-size="3.4" font-weight="bold" fill="#222" text-anchor="middle">42</text>
<line x1="194.23" y1="308.75" x2="194.23" y2="310.15" stroke="#555" stroke-width="0.8"/>
<text x="194.23" y="314.15" font-size="3.4" font-weight="bold" fill="#222" text-anchor="middle">44</text>
<line x1="202.02" y1="308.75" x2="202.02" y2="310.15" stroke="#555" stroke-width="0.8"/>
<text x="202.02" y="314.15" font-size="3.4" font-weight="bold" fill="#222" text-anchor="middle">46</text>
<line x1="209.80" y1="308.75" x2="209.80" y2="310.15" stroke="#555" stroke-width="0.8"/>
<text x="209.80" y="314.15" font-size="3.4" font-weight="bold" fill="#222" text-anchor="middle">48</text>
<circle cx="201.50" cy="298.75" r="1.2" fill="#000"/>
<circle cx="181.90" cy="269.60" r="1.2" fill="#28428f"/>
<text x="189.00" y="297.00" font-size="6.7" font-weight="bold" fill="#000" text-anchor="start" stroke="#000" stroke-width="0.2">VEH</text>
<text x="165.00" y="267.40" font-size="6.7" font-weight="bold" fill="#000" text-anchor="start" stroke="#000" stroke-width="0.2">4-OHT+SEL</text>
<text x="182.90" y="318.60" font-size="3.4" font-weight="bold" fill="#333" text-anchor="middle">Glycolytic Activity</text>
<text x="182.90" y="323.10" font-size="3.4" font-weight="bold" fill="#333" text-anchor="middle">ECAR (mpH/min)</text>
<line x1="225.00" y1="262.90" x2="225.00" y2="309.60" stroke="#555" stroke-width="0.8"/>
<line x1="224.60" y1="309.60" x2="272.30" y2="309.60" stroke="#555" stroke-width="0.8"/>
<line x1="223.60" y1="263.30" x2="225.00" y2="263.30" stroke="#555" stroke-width="0.8"/>
<text x="223.10" y="265.10" font-size="3.1" font-weight="bold" fill="#222" text-anchor="end">140</text>
<line x1="223.60" y1="278.73" x2="225.00" y2="278.73" stroke="#555" stroke-width="0.8"/>
<text x="223.10" y="280.53" font-size="3.1" font-weight="bold" fill="#222" text-anchor="end">135</text>
<line x1="223.60" y1="294.17" x2="225.00" y2="294.17" stroke="#555" stroke-width="0.8"/>
<text x="223.10" y="295.97" font-size="3.1" font-weight="bold" fill="#222" text-anchor="end">130</text>
<line x1="223.60" y1="309.60" x2="225.00" y2="309.60" stroke="#555" stroke-width="0.8"/>
<text x="223.10" y="311.40" font-size="3.1" font-weight="bold" fill="#222" text-anchor="end">125</text>
<line x1="225.00" y1="309.60" x2="225.00" y2="311.00" stroke="#555" stroke-width="0.8"/>
<text x="225.00" y="315.00" font-size="3.4" font-weight="bold" fill="#222" text-anchor="middle">30</text>
<line x1="240.63" y1="309.60" x2="240.63" y2="311.00" stroke="#555" stroke-width="0.8"/>
<text x="240.63" y="315.00" font-size="3.4" font-weight="bold" fill="#222" text-anchor="middle">40</text>
<line x1="256.27" y1="309.60" x2="256.27" y2="311.00" stroke="#555" stroke-width="0.8"/>
<text x="256.27" y="315.00" font-size="3.4" font-weight="bold" fill="#222" text-anchor="middle">50</text>
<line x1="271.90" y1="309.60" x2="271.90" y2="311.00" stroke="#555" stroke-width="0.8"/>
<text x="271.90" y="315.00" font-size="3.4" font-weight="bold" fill="#222" text-anchor="middle">60</text>
<circle cx="256.25" cy="275.80" r="1.2" fill="#000"/>
<circle cx="239.20" cy="304.60" r="1.2" fill="#28428f"/>
<text x="250.00" y="273.00" font-size="6.7" font-weight="bold" fill="#000" text-anchor="start" stroke="#000" stroke-width="0.2">VEH</text>
<text x="237.00" y="302.60" font-size="6.7" font-weight="bold" fill="#000" text-anchor="start" stroke="#000" stroke-width="0.2">4-OHT+SEL</text>
<text x="242.60" y="318.60" font-size="3.4" font-weight="bold" fill="#333" text-anchor="middle">Glycolytic Activity</text>
<text x="242.60" y="322.90" font-size="3.4" font-weight="bold" fill="#333" text-anchor="middle">ECAR (mpH/min)</text>
<line x1="44.80" y1="325.90" x2="44.80" y2="372.10" stroke="#555" stroke-width="0.8"/>
<line x1="44.40" y1="372.10" x2="91.40" y2="372.10" stroke="#555" stroke-width="0.8"/>
<line x1="43.40" y1="326.30" x2="44.80" y2="326.30" stroke="#555" stroke-width="0.8"/>
<text x="42.90" y="328.10" font-size="3.1" font-weight="bold" fill="#222" text-anchor="end">240</text>
<line x1="43.40" y1="333.93" x2="44.80" y2="333.93" stroke="#555" stroke-width="0.8"/>
<text x="42.90" y="335.73" font-size="3.1" font-weight="bold" fill="#222" text-anchor="end">220</text>
<line x1="43.40" y1="341.57" x2="44.80" y2="341.57" stroke="#555" stroke-width="0.8"/>
<text x="42.90" y="343.37" font-size="3.1" font-weight="bold" fill="#222" text-anchor="end">200</text>
<line x1="43.40" y1="349.20" x2="44.80" y2="349.20" stroke="#555" stroke-width="0.8"/>
<text x="42.90" y="351.00" font-size="3.1" font-weight="bold" fill="#222" text-anchor="end">180</text>
<line x1="43.40" y1="356.83" x2="44.80" y2="356.83" stroke="#555" stroke-width="0.8"/>
<text x="42.90" y="358.63" font-size="3.1" font-weight="bold" fill="#222" text-anchor="end">160</text>
<line x1="43.40" y1="364.47" x2="44.80" y2="364.47" stroke="#555" stroke-width="0.8"/>
<text x="42.90" y="366.27" font-size="3.1" font-weight="bold" fill="#222" text-anchor="end">140</text>
<line x1="43.40" y1="372.10" x2="44.80" y2="372.10" stroke="#555" stroke-width="0.8"/>
<text x="42.90" y="373.90" font-size="3.1" font-weight="bold" fill="#222" text-anchor="end">120</text>
<line x1="44.80" y1="372.10" x2="44.80" y2="373.50" stroke="#555" stroke-width="0.8"/>
<text x="44.80" y="378.10" font-size="3.4" font-weight="bold" fill="#222" text-anchor="middle">50</text>
<line x1="56.35" y1="372.10" x2="56.35" y2="373.50" stroke="#555" stroke-width="0.8"/>
<text x="56.35" y="378.10" font-size="3.4" font-weight="bold" fill="#222" text-anchor="middle">60</text>
<line x1="67.90" y1="372.10" x2="67.90" y2="373.50" stroke="#555" stroke-width="0.8"/>
<text x="67.90" y="378.10" font-size="3.4" font-weight="bold" fill="#222" text-anchor="middle">70</text>
<line x1="79.45" y1="372.10" x2="79.45" y2="373.50" stroke="#555" stroke-width="0.8"/>
<text x="79.45" y="378.10" font-size="3.4" font-weight="bold" fill="#222" text-anchor="middle">80</text>
<line x1="91.00" y1="372.10" x2="91.00" y2="373.50" stroke="#555" stroke-width="0.8"/>
<text x="91.00" y="378.10" font-size="3.4" font-weight="bold" fill="#222" text-anchor="middle">90</text>
<circle cx="80.20" cy="332.50" r="1.2" fill="#000"/>
<circle cx="49.40" cy="356.10" r="1.2" fill="#28428f"/>
<text x="66.70" y="331.40" font-size="6.7" font-weight="bold" fill="#000" text-anchor="start" stroke="#000" stroke-width="0.2">VEH</text>
<text x="49.40" y="363.70" font-size="6.7" font-weight="bold" fill="#000" text-anchor="start" stroke="#000" stroke-width="0.2">4-OHT+SEL</text>
<line x1="103.50" y1="325.90" x2="103.50" y2="372.10" stroke="#555" stroke-width="0.8"/>
<line x1="103.10" y1="372.10" x2="149.80" y2="372.10" stroke="#555" stroke-width="0.8"/>
<line x1="102.10" y1="326.30" x2="103.50" y2="326.30" stroke="#555" stroke-width="0.8"/>
<text x="101.60" y="328.10" font-size="3.1" font-weight="bold" fill="#222" text-anchor="end">550</text>
<line x1="102.10" y1="337.75" x2="103.50" y2="337.75" stroke="#555" stroke-width="0.8"/>
<text x="101.60" y="339.55" font-size="3.1" font-weight="bold" fill="#222" text-anchor="end">500</text>
<line x1="102.10" y1="349.20" x2="103.50" y2="349.20" stroke="#555" stroke-width="0.8"/>
<text x="101.60" y="351.00" font-size="3.1" font-weight="bold" fill="#222" text-anchor="end">450</text>
<line x1="102.10" y1="360.65" x2="103.50" y2="360.65" stroke="#555" stroke-width="0.8"/>
<text x="101.60" y="362.45" font-size="3.1" font-weight="bold" fill="#222" text-anchor="end">400</text>
<line x1="102.10" y1="372.10" x2="103.50" y2="372.10" stroke="#555" stroke-width="0.8"/>
<text x="101.60" y="373.90" font-size="3.1" font-weight="bold" fill="#222" text-anchor="end">350</text>
<line x1="103.50" y1="372.10" x2="103.50" y2="373.50" stroke="#555" stroke-width="0.8"/>
<text x="103.50" y="378.10" font-size="3.4" font-weight="bold" fill="#222" text-anchor="middle">50</text>
<line x1="114.97" y1="372.10" x2="114.97" y2="373.50" stroke="#555" stroke-width="0.8"/>
<text x="114.97" y="378.10" font-size="3.4" font-weight="bold" fill="#222" text-anchor="middle">60</text>
<line x1="126.45" y1="372.10" x2="126.45" y2="373.50" stroke="#555" stroke-width="0.8"/>
<text x="126.45" y="378.10" font-size="3.4" font-weight="bold" fill="#222" text-anchor="middle">70</text>
<line x1="137.93" y1="372.10" x2="137.93" y2="373.50" stroke="#555" stroke-width="0.8"/>
<text x="137.93" y="378.10" font-size="3.4" font-weight="bold" fill="#222" text-anchor="middle">80</text>
<line x1="149.40" y1="372.10" x2="149.40" y2="373.50" stroke="#555" stroke-width="0.8"/>
<text x="149.40" y="378.10" font-size="3.4" font-weight="bold" fill="#222" text-anchor="middle">90</text>
<circle cx="144.60" cy="336.70" r="1.2" fill="#000"/>
<circle cx="116.00" cy="361.90" r="1.2" fill="#28428f"/>
<text x="136.25" y="333.90" font-size="6.7" font-weight="bold" fill="#000" text-anchor="start" stroke="#000" stroke-width="0.2">VEH</text>
<text x="110.80" y="359.90" font-size="6.7" font-weight="bold" fill="#000" text-anchor="start" stroke="#000" stroke-width="0.2">4-OHT+SEL</text>
<line x1="163.50" y1="325.90" x2="163.50" y2="372.10" stroke="#555" stroke-width="0.8"/>
<line x1="163.10" y1="372.10" x2="208.70" y2="372.10" stroke="#555" stroke-width="0.8"/>
<line x1="162.10" y1="326.30" x2="163.50" y2="326.30" stroke="#555" stroke-width="0.8"/>
<text x="161.60" y="328.10" font-size="3.1" font-weight="bold" fill="#222" text-anchor="end">480</text>
<line x1="162.10" y1="335.46" x2="163.50" y2="335.46" stroke="#555" stroke-width="0.8"/>
<text x="161.60" y="337.26" font-size="3.1" font-weight="bold" fill="#222" text-anchor="end">460</text>
<line x1="162.10" y1="344.62" x2="163.50" y2="344.62" stroke="#555" stroke-width="0.8"/>
<text x="161.60" y="346.42" font-size="3.1" font-weight="bold" fill="#222" text-anchor="end">440</text>
<line x1="162.10" y1="353.78" x2="163.50" y2="353.78" stroke="#555" stroke-width="0.8"/>
<text x="161.60" y="355.58" font-size="3.1" font-weight="bold" fill="#222" text-anchor="end">420</text>
<line x1="162.10" y1="362.94" x2="163.50" y2="362.94" stroke="#555" stroke-width="0.8"/>
<text x="161.60" y="364.74" font-size="3.1" font-weight="bold" fill="#222" text-anchor="end">400</text>
<line x1="162.10" y1="372.10" x2="163.50" y2="372.10" stroke="#555" stroke-width="0.8"/>
<text x="161.60" y="373.90" font-size="3.1" font-weight="bold" fill="#222" text-anchor="end">380</text>
<line x1="163.50" y1="372.10" x2="163.50" y2="373.50" stroke="#555" stroke-width="0.8"/>
<text x="163.50" y="378.10" font-size="3.4" font-weight="bold" fill="#222" text-anchor="middle">55</text>
<line x1="170.97" y1="372.10" x2="170.97" y2="373.50" stroke="#555" stroke-width="0.8"/>
<text x="170.97" y="378.10" font-size="3.4" font-weight="bold" fill="#222" text-anchor="middle">60</text>
<line x1="178.43" y1="372.10" x2="178.43" y2="373.50" stroke="#555" stroke-width="0.8"/>
<text x="178.43" y="378.10" font-size="3.4" font-weight="bold" fill="#222" text-anchor="middle">65</text>
<line x1="185.90" y1="372.10" x2="185.90" y2="373.50" stroke="#555" stroke-width="0.8"/>
<text x="185.90" y="378.10" font-size="3.4" font-weight="bold" fill="#222" text-anchor="middle">70</text>
<line x1="193.37" y1="372.10" x2="193.37" y2="373.50" stroke="#555" stroke-width="0.8"/>
<text x="193.37" y="378.10" font-size="3.4" font-weight="bold" fill="#222" text-anchor="middle">75</text>
<line x1="200.83" y1="372.10" x2="200.83" y2="373.50" stroke="#555" stroke-width="0.8"/>
<text x="200.83" y="378.10" font-size="3.4" font-weight="bold" fill="#222" text-anchor="middle">80</text>
<line x1="208.30" y1="372.10" x2="208.30" y2="373.50" stroke="#555" stroke-width="0.8"/>
<text x="208.30" y="378.10" font-size="3.4" font-weight="bold" fill="#222" text-anchor="middle">85</text>
<circle cx="205.80" cy="345.70" r="1.2" fill="#000"/>
<circle cx="169.80" cy="370.25" r="1.2" fill="#28428f"/>
<text x="194.20" y="343.40" font-size="6.7" font-weight="bold" fill="#000" text-anchor="start" stroke="#000" stroke-width="0.2">VEH</text>
<text x="170.40" y="366.80" font-size="6.7" font-weight="bold" fill="#000" text-anchor="start" stroke="#000" stroke-width="0.2">4-OHT+SEL</text>
<line x1="224.60" y1="325.90" x2="224.60" y2="372.30" stroke="#555" stroke-width="0.8"/>
<line x1="224.20" y1="372.30" x2="271.90" y2="372.30" stroke="#555" stroke-width="0.8"/>
<line x1="223.20" y1="326.30" x2="224.60" y2="326.30" stroke="#555" stroke-width="0.8"/>
<text x="222.70" y="328.10" font-size="3.1" font-weight="bold" fill="#222" text-anchor="end">500</text>
<line x1="223.20" y1="337.80" x2="224.60" y2="337.80" stroke="#555" stroke-width="0.8"/>
<text x="222.70" y="339.60" font-size="3.1" font-weight="bold" fill="#222" text-anchor="end">450</text>
<line x1="223.20" y1="349.30" x2="224.60" y2="349.30" stroke="#555" stroke-width="0.8"/>
<text x="222.70" y="351.10" font-size="3.1" font-weight="bold" fill="#222" text-anchor="end">400</text>
<line x1="223.20" y1="360.80" x2="224.60" y2="360.80" stroke="#555" stroke-width="0.8"/>
<text x="222.70" y="362.60" font-size="3.1" font-weight="bold" fill="#222" text-anchor="end">350</text>
<line x1="223.20" y1="372.30" x2="224.60" y2="372.30" stroke="#555" stroke-width="0.8"/>
<text x="222.70" y="374.10" font-size="3.1" font-weight="bold" fill="#222" text-anchor="end">300</text>
<line x1="224.60" y1="372.30" x2="224.60" y2="373.70" stroke="#555" stroke-width="0.8"/>
<text x="224.60" y="378.30" font-size="3.4" font-weight="bold" fill="#222" text-anchor="middle">50</text>
<line x1="236.32" y1="372.30" x2="236.32" y2="373.70" stroke="#555" stroke-width="0.8"/>
<text x="236.32" y="378.30" font-size="3.4" font-weight="bold" fill="#222" text-anchor="middle">60</text>
<line x1="248.05" y1="372.30" x2="248.05" y2="373.70" stroke="#555" stroke-width="0.8"/>
<text x="248.05" y="378.30" font-size="3.4" font-weight="bold" fill="#222" text-anchor="middle">70</text>
<line x1="259.77" y1="372.30" x2="259.77" y2="373.70" stroke="#555" stroke-width="0.8"/>
<text x="259.77" y="378.30" font-size="3.4" font-weight="bold" fill="#222" text-anchor="middle">80</text>
<line x1="271.50" y1="372.30" x2="271.50" y2="373.70" stroke="#555" stroke-width="0.8"/>
<text x="271.50" y="378.30" font-size="3.4" font-weight="bold" fill="#222" text-anchor="middle">90</text>
<circle cx="259.00" cy="329.40" r="1.2" fill="#000"/>
<circle cx="229.20" cy="361.90" r="1.2" fill="#28428f"/>
<text x="255.20" y="336.60" font-size="6.7" font-weight="bold" fill="#000" text-anchor="start" stroke="#000" stroke-width="0.2">VEH</text>
<text x="228.75" y="360.10" font-size="6.7" font-weight="bold" fill="#000" text-anchor="start" stroke="#000" stroke-width="0.2">4-OHT+SEL</text>
<text transform="translate(25.3,243) rotate(-90)" font-size="6.0" font-weight="bold">MCF7 ESR1<tspan font-size="3.0" dy="-2.1">Y537S</tspan></text>
<text transform="translate(26.30,291.00) rotate(-90)" font-size="5.3" font-weight="bold" fill="#000" text-anchor="middle">BT474</text>
<text transform="translate(26.13,346.10) rotate(-90)" font-size="5.4" font-weight="bold" fill="#000" text-anchor="middle">HCC1500</text>
<text transform="translate(31.64,225.80) rotate(-90)" font-size="3.45" font-weight="bold" fill="#444" text-anchor="middle">Mitochondrial Respiration</text>
<text transform="translate(35.85,225.80) rotate(-90)" font-size="3.5" font-weight="bold" fill="#444" text-anchor="middle">OCR (pMoles/min)</text>
<text transform="translate(31.14,284.00) rotate(-90)" font-size="3.45" font-weight="bold" fill="#444" text-anchor="middle">Mitochondrial Respiration</text>
<text transform="translate(35.35,284.00) rotate(-90)" font-size="3.5" font-weight="bold" fill="#444" text-anchor="middle">OCR (pMoles/min)</text>
<text transform="translate(30.64,349.90) rotate(-90)" font-size="3.45" font-weight="bold" fill="#444" text-anchor="middle">Mitochondrial Respiration</text>
<text transform="translate(34.85,349.90) rotate(-90)" font-size="3.5" font-weight="bold" fill="#444" text-anchor="middle">OCR (pMoles/min)</text>
<text x="279.20" y="184.50" font-size="14.2" font-weight="bold" fill="#000" text-anchor="start">C</text>
<text x="339.40" y="200.90" font-size="14.2" font-weight="bold" fill="#000" stroke="#000" stroke-width="0.3" textLength="71.90" lengthAdjust="spacingAndGlyphs">Metastatic</text>
<text x="414.00" y="200.90" font-size="14.2" font-weight="bold" fill="#000" stroke="#000" stroke-width="0.3" textLength="86.60" lengthAdjust="spacingAndGlyphs">environment</text>
<text x="324.60" y="222.90" font-size="14.2" font-weight="bold" fill="#000" stroke="#000" stroke-width="0.3" textLength="28.90" lengthAdjust="spacingAndGlyphs">TAM</text>
<text x="484.20" y="226.00" font-size="14.2" font-weight="bold" fill="#000" stroke="#000" stroke-width="0.3" textLength="22.70" lengthAdjust="spacingAndGlyphs">SEL</text>
<text x="370.80" y="247.10" font-size="14.2" font-weight="bold" fill="#000" stroke="#000" stroke-width="0.3" textLength="25.60" lengthAdjust="spacingAndGlyphs">ERα</text>
<text x="429.00" y="246.90" font-size="14.2" font-weight="bold" fill="#000" stroke="#000" stroke-width="0.3" textLength="36.80" lengthAdjust="spacingAndGlyphs">XPO1</text>
<text x="396.30" y="278.80" font-size="14.2" font-weight="bold" fill="#000" stroke="#000" stroke-width="0.3" textLength="44.90" lengthAdjust="spacingAndGlyphs">PGC1α</text>
<text x="351.20" y="317.60" font-size="14.2" font-weight="bold" fill="#000" stroke="#000" stroke-width="0.3" textLength="67.40" lengthAdjust="spacingAndGlyphs">Metabolic</text>
<text x="422.60" y="317.60" font-size="14.2" font-weight="bold" fill="#000" stroke="#000" stroke-width="0.3" textLength="59.00" lengthAdjust="spacingAndGlyphs">Plasticity</text>
<text x="357.20" y="359.80" font-size="14.2" font-weight="bold" fill="#000" stroke="#000" stroke-width="0.3" textLength="54.00" lengthAdjust="spacingAndGlyphs">Therapy</text>
<text x="415.30" y="359.80" font-size="14.2" font-weight="bold" fill="#000" stroke="#000" stroke-width="0.3" textLength="69.00" lengthAdjust="spacingAndGlyphs">Resistance</text>
<line x1="412.60" y1="213.50" x2="395.34" y2="227.63" stroke="#378535" stroke-width="1.9"/>
<path d="M392.20,230.20 L394.79,224.20 L398.59,228.85 Z" stroke="none" stroke-width="1" fill="#378535"/>
<line x1="425.30" y1="213.50" x2="443.99" y2="227.92" stroke="#378535" stroke-width="1.9"/>
<path d="M447.20,230.40 L440.78,229.23 L444.44,224.48 Z" stroke="none" stroke-width="1" fill="#378535"/>
<line x1="407.26" y1="244.00" x2="420.04" y2="244.00" stroke="#378535" stroke-width="1.9"/>
<path d="M423.40,244.00 L418.60,246.50 L418.60,241.50 Z" stroke="none" stroke-width="1" fill="#378535"/>
<path d="M403.90,244.00 L408.70,241.50 L408.70,246.50 Z" stroke="none" stroke-width="1" fill="#378535"/>
<line x1="386.89" y1="254.06" x2="394.21" y2="261.94" stroke="#378535" stroke-width="1.9"/>
<path d="M396.50,264.40 L391.40,262.59 L395.06,259.18 Z" stroke="none" stroke-width="1" fill="#378535"/>
<path d="M384.60,251.60 L389.70,253.41 L386.04,256.82 Z" stroke="none" stroke-width="1" fill="#378535"/>
<line x1="449.01" y1="260.57" x2="457.69" y2="252.83" stroke="#378535" stroke-width="1.9"/>
<path d="M460.20,250.60 L458.28,255.66 L454.95,251.93 Z" stroke="none" stroke-width="1" fill="#378535"/>
<path d="M446.50,262.80 L448.42,257.74 L451.75,261.47 Z" stroke="none" stroke-width="1" fill="#378535"/>
<line x1="416.60" y1="283.60" x2="416.60" y2="301.54" stroke="#378535" stroke-width="1.9"/>
<path d="M416.60,305.60 L413.60,299.80 L419.60,299.80 Z" stroke="none" stroke-width="1" fill="#378535"/>
<line x1="416.00" y1="322.90" x2="416.00" y2="338.98" stroke="#000" stroke-width="1.9"/>
<path d="M416.00,342.90 L413.40,337.30 L418.60,337.30 Z" stroke="none" stroke-width="1" fill="#000"/>
<line x1="357.10" y1="225.50" x2="369.00" y2="234.80" stroke="#f01a24" stroke-width="2.5"/>
<line x1="362.50" y1="245.00" x2="377.80" y2="225.90" stroke="#f01a24" stroke-width="2.5"/>
<line x1="480.80" y1="226.00" x2="469.40" y2="237.40" stroke="#f01a24" stroke-width="2.5"/>
<line x1="460.00" y1="229.20" x2="477.10" y2="245.80" stroke="#f01a24" stroke-width="2.5"/>
<line x1="352.10" y1="249.30" x2="360.50" y2="248.30" stroke="#f01a24" stroke-width="2.0"/>
<line x1="343.30" y1="249.30" x2="344.80" y2="249.30" stroke="#f01a24" stroke-width="2.0"/>
<line x1="335.80" y1="248.60" x2="335.80" y2="256.60" stroke="#f01a24" stroke-width="2.0"/>
<line x1="335.80" y1="271.80" x2="335.80" y2="280.00" stroke="#f01a24" stroke-width="2.0"/>
<line x1="335.80" y1="295.00" x2="335.80" y2="303.40" stroke="#f01a24" stroke-width="2.0"/>
<line x1="335.80" y1="318.40" x2="335.80" y2="326.40" stroke="#f01a24" stroke-width="2.0"/>
<line x1="335.80" y1="342.50" x2="335.80" y2="351.60" stroke="#f01a24" stroke-width="2.0"/>
<line x1="335.80" y1="263.80" x2="335.80" y2="265.40" stroke="#f01a24" stroke-width="2.0"/>
<line x1="335.80" y1="287.00" x2="335.80" y2="288.60" stroke="#f01a24" stroke-width="2.0"/>
<line x1="335.80" y1="310.00" x2="335.80" y2="311.60" stroke="#f01a24" stroke-width="2.0"/>
<line x1="335.80" y1="333.30" x2="335.80" y2="334.90" stroke="#f01a24" stroke-width="2.0"/>
<line x1="334.60" y1="355.80" x2="336.10" y2="355.80" stroke="#f01a24" stroke-width="2.0"/>
<line x1="338.60" y1="355.80" x2="345.60" y2="355.80" stroke="#f01a24" stroke-width="2.0"/>
<path d="M352.9,355.8 L346.4,352.7 L346.4,358.9 Z" stroke="none" stroke-width="1" fill="#f01a24"/>
<line x1="510.50" y1="196.80" x2="512.10" y2="196.80" stroke="#2a4a98" stroke-width="1.9"/>
<line x1="519.20" y1="196.80" x2="527.60" y2="196.80" stroke="#2a4a98" stroke-width="1.9"/>
<line x1="526.60" y1="200.90" x2="526.60" y2="208.30" stroke="#2a4a98" stroke-width="1.9"/>
<line x1="526.60" y1="224.10" x2="526.60" y2="231.40" stroke="#2a4a98" stroke-width="1.9"/>
<line x1="526.60" y1="247.20" x2="526.60" y2="254.50" stroke="#2a4a98" stroke-width="1.9"/>
<line x1="526.60" y1="270.40" x2="526.60" y2="277.90" stroke="#2a4a98" stroke-width="1.9"/>
<line x1="526.60" y1="293.60" x2="526.60" y2="300.90" stroke="#2a4a98" stroke-width="1.9"/>
<line x1="526.60" y1="215.50" x2="526.60" y2="217.10" stroke="#2a4a98" stroke-width="1.9"/>
<line x1="526.60" y1="238.40" x2="526.60" y2="240.00" stroke="#2a4a98" stroke-width="1.9"/>
<line x1="526.60" y1="261.60" x2="526.60" y2="263.20" stroke="#2a4a98" stroke-width="1.9"/>
<line x1="526.60" y1="284.80" x2="526.60" y2="286.40" stroke="#2a4a98" stroke-width="1.9"/>
<line x1="526.60" y1="307.70" x2="526.60" y2="309.30" stroke="#2a4a98" stroke-width="1.9"/>
<line x1="526.60" y1="315.70" x2="526.60" y2="317.30" stroke="#2a4a98" stroke-width="1.9"/>
<line x1="508.60" y1="314.30" x2="516.70" y2="314.30" stroke="#2a4a98" stroke-width="1.9"/>
<line x1="499.80" y1="314.30" x2="501.40" y2="314.30" stroke="#2a4a98" stroke-width="1.9"/>
<path d="M491.3,314.3 L497.4,311.3 L497.4,317.3 Z" stroke="none" stroke-width="1" fill="#2a4a98"/>
</svg>
</body></html>
